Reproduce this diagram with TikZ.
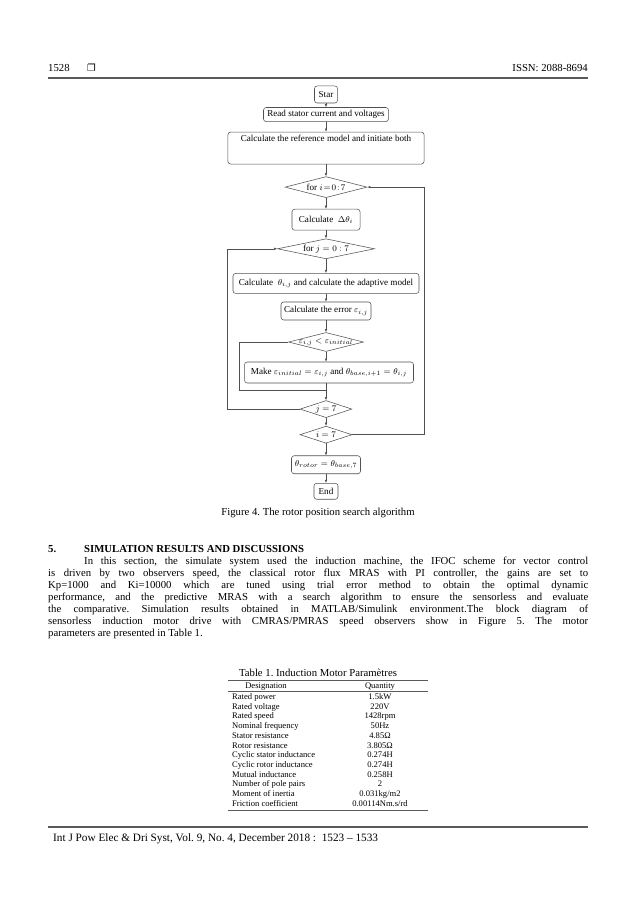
\documentclass[tikz,border=0pt]{standalone}
\usepackage{fontspec}
\setmainfont{Liberation Serif}
\newfontfamily\dingfont{DejaVu Sans}
\usetikzlibrary{arrows.meta,positioning,shapes.geometric,calc}
\definecolor{cLine}{HTML}{505050}
\definecolor{cRule}{HTML}{5A5A5A}
\newcommand\dmtext[1]{\makebox[0pt]{#1}}
\frenchspacing
\tikzset{
  stepbox/.style={draw=cLine,rounded corners=2.5pt,line width=0.5pt,inner sep=1pt,font=\fontsize{8.5}{9}\selectfont},
  test/.style={draw=cLine,diamond,line width=0.5pt,inner sep=0pt,font=\fontsize{8.5}{9}\selectfont},
  flow/.style={-{Latex[length=3pt,width=2.4pt]},draw=cLine,line width=0.5pt},
  back/.style={draw=cLine,line width=0.5pt},
  body/.style={font=\fontsize{10}{11.2}\selectfont,inner sep=0pt},
  cell/.style={font=\fontsize{8}{9}\selectfont,inner sep=0pt},
  hrule/.style={draw=cRule,line width=#1}
}

\begin{document}
\begin{tikzpicture}[x=0.9333pt,y=-0.9333pt]
    \useasboundingbox[fill=white] (0,0) rectangle (638,902);
    % Page head
    \node[body,anchor=base west] (pgno) at (48,72) {1528};
    \node[body,anchor=base west] (mark) at (87,72) {\dingfont\fontsize{9}{9}\selectfont ❐};
    \node[body,anchor=base east] (issn) at (588,72) {ISSN: 2088-8694};
    \draw[hrule=1.5pt] (48,78) -- (588,78);

    % Nodes
    \node[stepbox,minimum width=21.5pt,minimum height=15.9pt] (star) at (326,94.5) {Star};
    \node[stepbox,minimum width=116.7pt,minimum height=13.1pt,below=3.7pt of star] (read) {Read stator current and voltages};
    \node[stepbox,minimum width=183pt,text height=8pt,text depth=19.9pt,below=9.3pt of read] (refmod) {Calculate the reference model and initiate both};
    \node[test,minimum width=76.5pt,minimum height=19.6pt,below=11.2pt of refmod] (fori) {\dmtext{for $i\!=\!0\!:\!7$}};
    \node[stepbox,minimum width=63.5pt,minimum height=19.6pt,below=10.3pt of fori] (dtheta) {Calculate \ $\Delta\theta_i$};
    \node[test,minimum width=90.5pt,minimum height=18.7pt,below=7.5pt of dtheta] (forj) {\dmtext{for $j=0:7$}};
    \node[stepbox,minimum width=173.6pt,minimum height=18.7pt,below=13.1pt of forj] (adapt) {Calculate \ $\theta_{i,j}$ and calculate the adaptive model};
    \node[stepbox,minimum width=84pt,minimum height=16.8pt,below=7.5pt of adapt] (err) {Calculate the error $\varepsilon_{i,j}$};
    \node[test,minimum width=70pt,minimum height=17.7pt,below=11.2pt of err] (eps) {\dmtext{$\varepsilon_{i,j}<\varepsilon_{initial}$}};
    \node[stepbox,minimum width=157.7pt,minimum height=19.6pt,below=9.3pt of eps,xshift=2.8pt] (make) {Make $\varepsilon_{initial}=\varepsilon_{i,j}$ and $\theta_{base,i+1}=\theta_{i,j}$};
    \node[test,minimum width=48.5pt,minimum height=15.9pt,below=15.9pt of eps.south |- make.south] (endj) {\dmtext{$j=7$}};
    \node[test,minimum width=48.5pt,minimum height=15.9pt,below=7.5pt of endj] (endi) {\dmtext{$i=7$}};
    \node[stepbox,minimum width=64.4pt,minimum height=16.8pt,below=11.2pt of endi] (rotor) {$\theta_{rotor}=\theta_{base,7}$};
    \node[stepbox,minimum width=22.4pt,minimum height=14.9pt,below=8.4pt of rotor] (stop) {End};
    \coordinate (join) at ($(eps.south |- make.south)!0.41!(endj.north)$);
    \coordinate (skip) at ($(make.west)+(-5,0)$);

    % Paths
    \draw[flow] (star) -- (read);
    \draw[flow] (read) -- (refmod);
    \draw[flow] (refmod) -- (fori);
    \draw[flow] (fori) -- (dtheta);
    \draw[flow] (dtheta) -- (forj);
    \draw[flow] (forj) -- (adapt);
    \draw[flow] (adapt) -- (err);
    \draw[flow] (err) -- (eps);
    \draw[flow] (eps) -- (eps.south |- make.north);
    \draw[flow] (eps.south |- make.south) -- (endj);
    \draw[back] (eps.west) -| (skip) |- (join);
    \draw[flow] (endj.west) -- (endj.west -| refmod.west) |- (forj.west);
    \draw[flow] (endj) -- (endi);
    \draw[flow] (endi.east) -- (endi.east -| refmod.east) |- (fori.east);
    \draw[flow] (endi) -- (rotor);
    \draw[flow] (rotor) -- (stop);

    % Caption and text
    \node[body,anchor=base] (cap) at (318,515) {Figure 4. The rotor position search algorithm};
    \node[body,anchor=base west,font=\fontsize{10}{11.2}\selectfont\bfseries] (secno) at (48,552) {5.};
    \node[body,anchor=base west,font=\fontsize{10}{11.2}\selectfont\bfseries] (sectitle) at (84,552) {SIMULATION RESULTS AND DISCUSSIONS};
    \node[body,anchor=north west,text width=504pt,align=justify] (para) at (48,557) {\hspace*{33.6pt}In this section, the simulate system used the induction machine, the IFOC scheme for vector control\linebreak
      is driven by two observers speed, the classical rotor flux MRAS with PI controller, the gains are set to\linebreak
      Kp=1000 and Ki=10000 which are tuned using trial error method to obtain the optimal dynamic\linebreak
      performance, and the predictive MRAS with a search algorithm to ensure the sensorless and evaluate\linebreak
      the comparative. Simulation results obtained in MATLAB/Simulink environment.The block diagram of\linebreak
      sensorless induction motor drive with CMRAS/PMRAS speed observers show in Figure 5. The motor\linebreak
      parameters are presented in Table 1.};

    % Table
    \node[body,anchor=base] (tabcap) at (318,676) {Table 1. Induction Motor Paramètres};
    \draw[hrule=0.8pt] (228,680) -- (428,680);
    \node[cell,anchor=base] (hdname) at (266,688.5) {Designation};
    \node[cell,anchor=base] (hdval) at (380,688.5) {Quantity};
    \draw[hrule=0.5pt] (228,691.5) -- (428,691.5);
    \foreach \k/\name/\val in {0/Rated power/1.5kW,1/Rated voltage/220V,2/Rated speed/1428rpm,
      3/Nominal frequency/50Hz,4/Stator resistance/4.85Ω,5/Rotor resistance/3.805Ω,
      6/Cyclic stator inductance/0.274H,7/Cyclic rotor inductance/0.274H,8/Mutual inductance/0.258H,
      9/Number of pole pairs/2,10/Moment of inertia/{0.031kg/m2},11/Friction coefficient/{0.00114Nm.s/rd}}{
      \node[cell,anchor=base west] (par\k) at (232,699.5+9.7*\k) {\name};
      \node[cell,anchor=base] (val\k) at (380,699.5+9.7*\k) {\val};
    }
    \draw[hrule=0.8pt] (228,810) -- (428,810);

    % Page foot
    \draw[hrule=1.2pt] (48,827) -- (588,827);
    \node[body,anchor=base west,font=\fontsize{10.5}{12}\selectfont] (foot) at (53,841) {Int J Pow Elec \& Dri Syst, Vol. 9, No. 4, December 2018 :\ \ 1523 -- 1533};
  \end{tikzpicture}
\end{document}
